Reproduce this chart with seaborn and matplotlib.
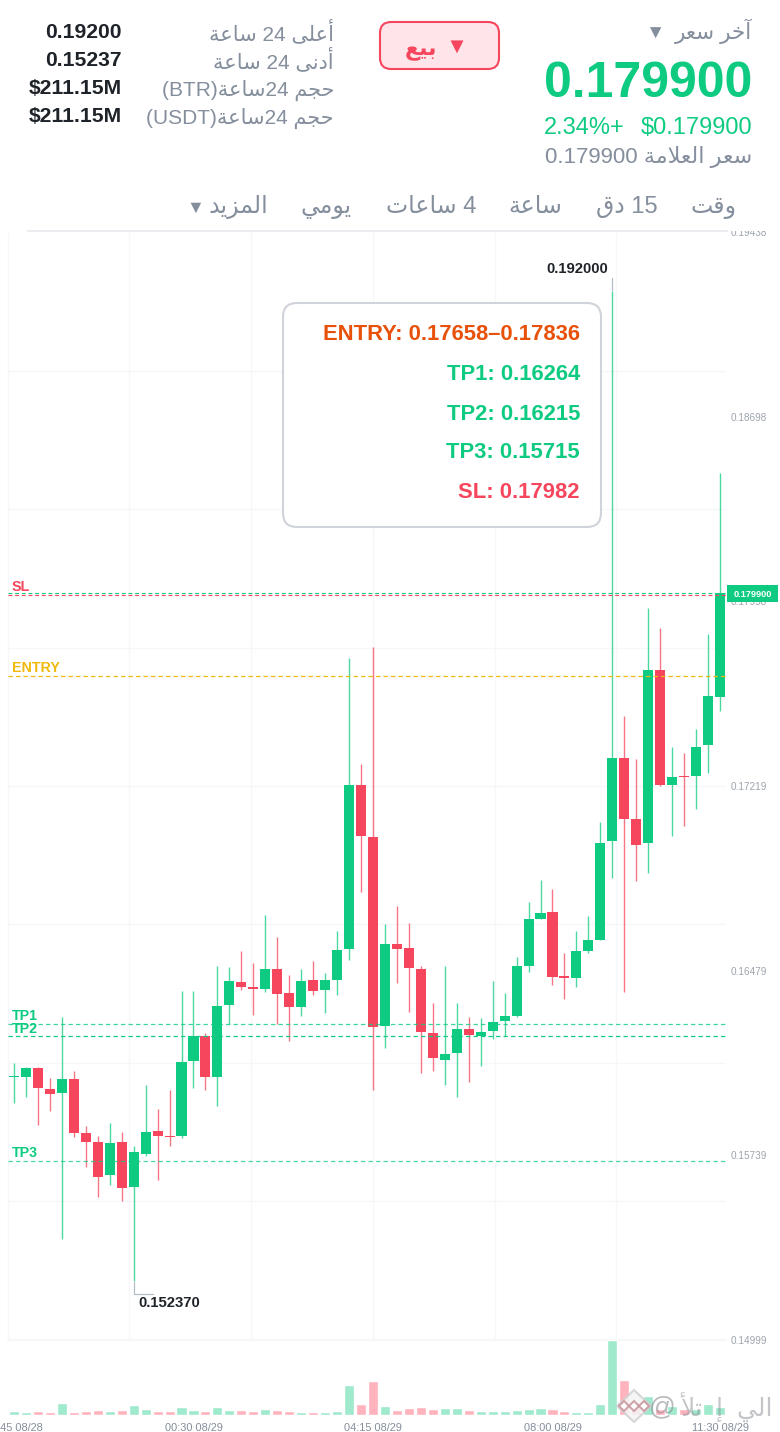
import re
import matplotlib
matplotlib.use("Agg")
import matplotlib.pyplot as plt
from matplotlib.patches import FancyBboxPatch, Polygon, Rectangle
import pandas as pd
import seaborn as sns

# 15 min candles, 20:45 08/28 -> 11:30 08/29
opens = [0.16053, 0.16051, 0.16088, 0.16006, 0.15987, 0.16043, 0.15827, 0.15793, 0.15659, 0.15791,
         0.15612, 0.15745, 0.15835, 0.15815, 0.15815, 0.16117, 0.16216, 0.16054, 0.16341, 0.16435,
         0.16412, 0.16406, 0.16484, 0.16389, 0.16333, 0.16441, 0.16400, 0.16440, 0.16564, 0.17223,
         0.17015, 0.16257, 0.16584, 0.16568, 0.16487, 0.16228, 0.16121, 0.16148, 0.16246, 0.16218,
         0.16237, 0.16277, 0.16297, 0.16499, 0.16687, 0.16714, 0.16457, 0.16451, 0.16559, 0.16600,
         0.16997, 0.17332, 0.17086, 0.16991, 0.17683, 0.17223, 0.17257, 0.17257, 0.17382, 0.17576]
closes = [0.16053, 0.16089, 0.16009, 0.15985, 0.16045, 0.15827, 0.15792, 0.15653, 0.15789, 0.15609,
          0.15751, 0.15831, 0.15815, 0.15812, 0.16114, 0.16217, 0.16054, 0.16336, 0.16436, 0.16413,
          0.16404, 0.16484, 0.16386, 0.16332, 0.16438, 0.16398, 0.16440, 0.16561, 0.17223, 0.17017,
          0.16254, 0.16585, 0.16565, 0.16488, 0.16234, 0.16128, 0.16144, 0.16245, 0.16221, 0.16234,
          0.16272, 0.16296, 0.16497, 0.16684, 0.16708, 0.16455, 0.16451, 0.16558, 0.16603, 0.16990,
          0.17330, 0.17086, 0.16983, 0.17683, 0.17223, 0.17255, 0.17253, 0.17376, 0.17578, 0.17990]
highs = [0.16108, 0.16094, 0.16092, 0.16047, 0.16292, 0.16078, 0.15858, 0.15817, 0.15867, 0.15831,
         0.15777, 0.16021, 0.15926, 0.16001, 0.16398, 0.16397, 0.16228, 0.16497, 0.16492, 0.16558,
         0.16509, 0.16702, 0.16614, 0.16461, 0.16484, 0.16517, 0.16468, 0.16636, 0.17730, 0.17305,
         0.17777, 0.16667, 0.16737, 0.16670, 0.16499, 0.16349, 0.16499, 0.16349, 0.16292, 0.16290,
         0.16436, 0.16388, 0.16532, 0.16754, 0.16841, 0.16805, 0.16550, 0.16638, 0.16699, 0.17076,
         0.19200, 0.17499, 0.17327, 0.17932, 0.17852, 0.17376, 0.17352, 0.17446, 0.17827, 0.18473]
lows = [0.15950, 0.15974, 0.15860, 0.15918, 0.15402, 0.15811, 0.15693, 0.15572, 0.15621, 0.15557,
        0.15237, 0.15737, 0.15640, 0.15775, 0.15810, 0.16009, 0.16001, 0.15937, 0.16265, 0.16402,
        0.16301, 0.16394, 0.16265, 0.16197, 0.16297, 0.16381, 0.16308, 0.16381, 0.16521, 0.16793,
        0.16002, 0.16169, 0.16430, 0.16314, 0.16067, 0.16075, 0.16022, 0.15973, 0.16033, 0.16098,
        0.16206, 0.16217, 0.16294, 0.16475, 0.16684, 0.16423, 0.16365, 0.16415, 0.16551, 0.16600,
        0.16851, 0.16394, 0.16839, 0.16869, 0.17220, 0.17019, 0.17057, 0.17128, 0.17271, 0.17519]
volumes = [3.4, 2.7, 3.7, 2.7, 11.2, 2.7, 3.7, 4.7, 3.0, 4.0,
           9.2, 5.4, 3.7, 3.7, 7.0, 4.7, 3.4, 7.0, 4.7, 4.4,
           3.4, 5.7, 4.7, 3.7, 2.7, 2.7, 2.7, 3.7, 29.0, 10.5,
           33.0, 8.7, 4.7, 6.7, 7.7, 5.0, 6.7, 6.0, 4.7, 3.4,
           3.7, 3.0, 4.4, 5.0, 6.4, 5.7, 3.0, 2.7, 2.7, 10.5,
           74.0, 34.3, 12.0, 18.7, 5.7, 8.7, 5.7, 5.4, 10.0, 7.7]

price_ticks = [0.19438, 0.18698, 0.17958, 0.17219, 0.16479, 0.15739, 0.14999]
grid_prices = [0.18883, 0.18328, 0.17773, 0.17219, 0.16664, 0.16109, 0.15554]
grid_slots = [9.65, 19.83, 30.0, 40.17, 50.33]
time_slots = [0, 15, 30, 45, 59]
time_labels = ["20:45 08/28", "00:30 08/29", "04:15 08/29", "08:00 08/29", "11:30 08/29"]

last_price = 0.17990
entry = 0.17658
sl = 0.17982
tp_levels = [("TP1", 0.16264, 0.8), ("TP2", 0.16215, 1.0), ("TP3", 0.15715, 0.75)]

GREEN = "#0ECB81"
RED = "#F6465D"
GOLD = "#F0B90B"
GREY = "#848E9C"
DARK = "#1E2329"
GRID = "#F6F7F8"
DASH = (0, (3.5, 2.5))

sns.set_theme(style="white")
plt.rcParams['font.family'] = ['Liberation Sans', 'DejaVu Sans']

# matplotlib has no arabic shaping, so join the letters by hand and lay them out right to left
ARABIC_FORMS = {}
_code = 0xFE81
for _letters, _n in [("آأؤإ", 2), ("ئ", 4), ("ا", 2), ("ب", 4), ("ة", 2), ("تثجحخ", 4), ("دذرز", 2),
                     ("سشصضطظعغفقكلمنه", 4), ("و", 2), ("ى", 2), ("ي", 4)]:
    for _ch in _letters:
        ARABIC_FORMS[_ch] = [chr(_code + i) for i in range(_n)]
        _code += _n
LAM_ALEF = {"آ": 0xFEF5, "أ": 0xFEF7, "إ": 0xFEF9, "ا": 0xFEFB}


def shape_word(word):
    out = []
    i = 0
    joined = False  # previous letter connects forward
    while i < len(word):
        ch = word[i]
        if ch == "ل" and i + 1 < len(word) and word[i + 1] in LAM_ALEF:
            out.append(chr(LAM_ALEF[word[i + 1]] + (1 if joined else 0)))
            joined = False
            i += 2
            continue
        forms = ARABIC_FORMS[ch]
        nxt = word[i + 1] if i + 1 < len(word) else None
        if len(forms) == 4 and nxt is not None:
            out.append(forms[3] if joined else forms[2])
            joined = True
        else:
            out.append(forms[1] if joined else forms[0])
            joined = False
        i += 1
    return "".join(reversed(out))


def flip_spaces(run):
    # spaces at the ends of a latin/number run change sides in a right to left line
    core = run.strip(" ")
    if not core:
        return run
    lead = len(run) - len(run.lstrip(" "))
    trail = len(run) - len(run.rstrip(" "))
    return " " * trail + core + " " * lead


def ar(text):
    runs = re.findall(r"[\u0621-\u064A]+|[^\u0621-\u064A]+", text)
    return "".join(shape_word(r) if r[0] in ARABIC_FORMS else flip_spaces(r) for r in reversed(runs))


fig = plt.figure(figsize=(7.8, 14.32), dpi=100, facecolor="white")
W, H = 780.0, 1432.0


def pane(left, top, right, bottom):
    return fig.add_axes([left / W, 1 - bottom / H, (right - left) / W, (bottom - top) / H])


# price pane
ax = pane(8, 232, 726, 1340)
ax.set_xlim(-0.5, 59.5)
ax.set_ylim(0.14999, 0.19438)
ax.hlines(grid_prices, -0.5, 59.5, color=GRID, lw=1, zorder=0)
ax.vlines(grid_slots + [-0.5], 0.14999, 0.19438, color=GRID, lw=1, zorder=0, clip_on=False)
ax.axhline(0.14999, color=GRID, lw=1.5, zorder=0, clip_on=False)

for i in range(len(opens)):
    up = closes[i] >= opens[i]
    col = GREEN if up else RED
    ax.vlines(i, lows[i], highs[i], color=col, lw=1.0, alpha=0.75, zorder=2)
    ax.bar(i, max(abs(closes[i] - opens[i]), 0.00005), bottom=min(opens[i], closes[i]),
           width=0.84, color=col, lw=0, zorder=3)

ax.axhline(last_price, color=GREEN, ls=DASH, lw=0.8, zorder=4)
ax.axhline(sl, color=RED, ls=DASH, lw=0.8, zorder=4)
ax.axhline(entry, color=GOLD, ls=DASH, lw=0.9, zorder=4)
for name, level, strength in tp_levels:
    ax.axhline(level, color=GREEN, ls=DASH, lw=0.9, alpha=strength, zorder=4)

ax.yaxis.tick_right()
ax.set_yticks(price_ticks, [f"{p:.5f}" for p in price_ticks])
ax.tick_params(axis="y", length=0, pad=3, labelsize=7.2, labelcolor="#9EA4AD")
ax.set_xticks([])
sns.despine(ax=ax, left=True, right=True, top=True, bottom=True)
ax.patch.set_alpha(0)

# volume pane
vol = pd.DataFrame({"slot": range(len(volumes)), "volume": volumes,
                    "side": ["up" if c >= o else "down" for o, c in zip(opens, closes)]})
vax = pane(8, 1340, 726, 1414.5)
sns.barplot(data=vol, x="slot", y="volume", hue="side", palette={"up": "#9FE9CC", "down": "#FFB3BD"},
            dodge=False, native_scale=True, width=0.84, saturation=1, legend=False, ax=vax)
vax.set_xlim(-0.5, 59.5)
vax.set_ylim(0, max(volumes))
vax.set_xlabel("")
vax.set_ylabel("")
vax.set_yticks([])
vax.set_xticks(time_slots, time_labels)
vax.tick_params(axis="x", length=0, pad=6, labelsize=7.9, labelcolor=GREY)
sns.despine(ax=vax, left=True, right=True, top=True, bottom=True)
vax.patch.set_alpha(0)

# everything that is not data: header, tabs, tooltip, tags. pixel coordinates
ui = fig.add_axes([0, 0, 1, 1], zorder=10)
ui.set_xlim(0, W)
ui.set_ylim(H, 0)
ui.axis("off")
ui.patch.set_alpha(0)


def put(x, y, s, size, color, ha="right", weight="normal", **kw):
    return ui.text(x, y, s, fontsize=size, color=color, ha=ha, va="baseline", fontweight=weight, **kw)


ui.add_patch(Rectangle((0, 0), W, 231, fc="white", ec="none", zorder=0))
ui.plot([28, 727], [231, 231], color="#EAECEF", lw=1.5, zorder=1)

put(121.5, 38, "0.19200", 15.2, DARK, weight="bold")
put(121.5, 66, "0.15237", 15.2, DARK, weight="bold")
put(121.5, 94, "$211.15M", 15.2, DARK, weight="bold")
put(121.5, 122, "$211.15M", 15.2, DARK, weight="bold")

put(334, 40, ar("أعلى 24 ساعة"), 15, GREY)
put(334, 68, ar("أدنى 24 ساعة"), 15, GREY)
put(334, 96, ar("حجم 24ساعة(BTR)"), 15, GREY)
put(334, 124, ar("حجم 24ساعة(USDT)"), 15, GREY)

ui.add_patch(FancyBboxPatch((380, 22), 119, 47, boxstyle="round,pad=0,rounding_size=11",
                            fc="#FFE5E9", ec=RED, lw=1.5, zorder=2))
put(467, 53, "▼", 16, RED, zorder=3)
put(437, 55, ar("بيع"), 16, RED, weight="bold", zorder=3)

put(752, 39, ar("آخر سعر"), 15.5, GREY)
put(664, 39, "▼", 14, GREY)
put(752, 97, "0.179900", 36, GREEN, weight="bold")
put(752, 134, "$0.179900", 17, GREEN)
put(625, 134, "2.34%+", 17, GREEN)
put(752, 163, ar("سعر العلامة 0.179900"), 16, GREY)

tabs = [(736, "وقت"), (658, "15 دق"), (562, "ساعة"), (476, "4 ساعات"), (352, "يومي"), (268, "المزيد")]
for x, label in tabs:
    put(x, 213, ar(label), 17, GREY)
put(204, 213, "▼", 13, GREY)

# tooltip
ui.add_patch(FancyBboxPatch((283, 303), 318, 224, boxstyle="round,pad=0,rounding_size=14",
                            fc="white", ec="#D0D3DA", lw=1.5, zorder=2))
put(580, 340, "ENTRY: 0.17658–0.17836", 15.8, "#E8510A", weight="bold", zorder=3)
put(580, 380, "TP1: 0.16264", 15.8, GREEN, weight="bold", zorder=3)
put(580, 420, "TP2: 0.16215", 15.8, GREEN, weight="bold", zorder=3)
put(580, 458, "TP3: 0.15715", 15.8, GREEN, weight="bold", zorder=3)
put(580, 498, "SL: 0.17982", 15.8, RED, weight="bold", zorder=3)

# level tags on the left
put(12, 591, "SL", 10.3, RED, ha="left", weight="bold")
put(12, 672, "ENTRY", 10.3, GOLD, ha="left", weight="bold")
put(12, 1020, "TP1", 10.3, GREEN, ha="left", weight="bold")
put(12, 1033, "TP2", 10.3, GREEN, ha="left", weight="bold")
put(12, 1157, "TP3", 10.3, GREEN, ha="left", weight="bold")

# high / low callouts
ui.plot([612, 612], [278, 290], color="#B7BDC6", lw=0.9)
put(608, 273, "0.192000", 10.7, DARK, weight="bold")
ui.plot([134, 134, 153], [1282, 1294, 1294], color="#B7BDC6", lw=0.9)
put(138, 1307, "0.152370", 10.7, DARK, ha="left", weight="bold")

# last price tag
ui.add_patch(Rectangle((727, 585), 51, 17, fc=GREEN, ec="none", zorder=2))
put(752.5, 597, "0.179900", 6.6, "white", ha="center", weight="bold", zorder=3)

# watermark
ui.add_patch(Polygon([(634, 1390), (651, 1406), (634, 1422), (617, 1406)], closed=True,
                     fc="#F4F4F5", ec="#CFD0D3", lw=1.5, alpha=0.85, zorder=4))
for cx in (624, 634, 644):
    ui.add_patch(Polygon([(cx, 1401), (cx + 5, 1406), (cx, 1411), (cx - 5, 1406)], closed=True,
                         fc="white", ec="#C9979E", lw=1.4, alpha=0.9, zorder=5))
put(773, 1416, ar("الي  إ  تلأ"), 18, "#8A8D93", alpha=0.5, zorder=6)
put(676, 1414, "@", 19, "#8A8D93", alpha=0.6, zorder=6)

fig.savefig("out.png", dpi=100)
